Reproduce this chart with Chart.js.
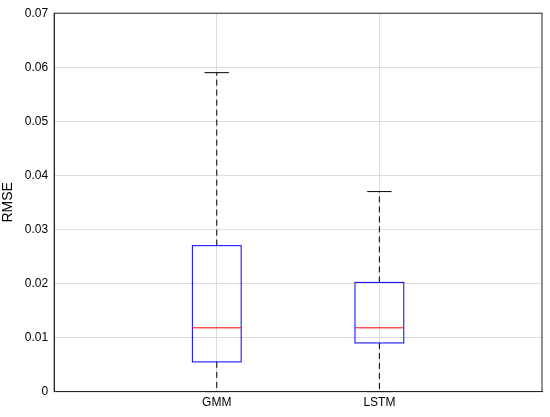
<!DOCTYPE html>
<html>
<head>
<script src="https://cdn.jsdelivr.net/npm/chart.js@4"></script>
<style>
  body { margin: 0; background: #fff; }
  #wrap { width: 550px; height: 417px; }
</style>
</head>
<body>
<div id="wrap"><canvas id="boxChart"></canvas></div>
<script>
// Box statistics
const categories = ["GMM", "LSTM"];
const positions = [1, 2];
const whiskerLow = [0, 0];
const quartile1 = [0.0055, 0.009];
const medians = [0.0118, 0.0118];
const quartile3 = [0.027, 0.0202];
const whiskerHigh = [0.059, 0.037];
const yTicks = [0, 0.01, 0.02, 0.03, 0.04, 0.05, 0.06, 0.07];

const boxPlugin = {
  id: "boxes",
  afterDatasetsDraw(chart) {
    const ctx = chart.ctx;
    const x = chart.scales.x;
    const y = chart.scales.y;
    const area = chart.chartArea;

    ctx.save();
    positions.forEach((p, i) => {
      const cx = x.getPixelForValue(p);
      const half = x.getPixelForValue(p + 0.15) - cx;
      const capHalf = half / 2;

      // whiskers
      ctx.strokeStyle = "#000";
      ctx.lineWidth = 1;
      ctx.setLineDash([6, 4]);
      ctx.beginPath();
      ctx.moveTo(cx, y.getPixelForValue(quartile3[i]));
      ctx.lineTo(cx, y.getPixelForValue(whiskerHigh[i]));
      ctx.moveTo(cx, y.getPixelForValue(quartile1[i]));
      ctx.lineTo(cx, y.getPixelForValue(whiskerLow[i]));
      ctx.stroke();
      ctx.setLineDash([]);

      // caps
      ctx.beginPath();
      [whiskerHigh[i], whiskerLow[i]].forEach((v) => {
        const py = y.getPixelForValue(v);
        ctx.moveTo(cx - capHalf, py);
        ctx.lineTo(cx + capHalf, py);
      });
      ctx.stroke();

      // box
      ctx.strokeStyle = "#0000ff";
      const top = y.getPixelForValue(quartile3[i]);
      const bot = y.getPixelForValue(quartile1[i]);
      ctx.strokeRect(cx - half, top, half * 2, bot - top);

      // median
      ctx.strokeStyle = "#ff0000";
      ctx.beginPath();
      const my = y.getPixelForValue(medians[i]);
      ctx.moveTo(cx - half, my);
      ctx.lineTo(cx + half, my);
      ctx.stroke();
    });

    // frame
    ctx.strokeStyle = "#262626";
    ctx.lineWidth = 1;
    ctx.strokeRect(area.left, area.top, area.right - area.left, area.bottom - area.top);
    ctx.restore();
  }
};

new Chart(document.getElementById("boxChart"), {
  type: "scatter",
  data: {
    datasets: [{
      data: positions.map((p, i) => ({ x: p, y: whiskerHigh[i] })),
      pointRadius: 0,
      showLine: false
    }]
  },
  options: {
    responsive: true,
    maintainAspectRatio: false,
    animation: false,
    layout: { padding: { top: -4, right: 8, bottom: 3, left: 0 } },
    plugins: { legend: { display: false }, tooltip: { enabled: false } },
    scales: {
      x: {
        type: "linear",
        min: 0,
        max: 3,
        afterBuildTicks: (axis) => { axis.ticks = positions.map((v) => ({ value: v })); },
        ticks: {
          callback: (v) => categories[positions.indexOf(v)] || "",
          color: "#000",
          font: { family: "Liberation Sans", size: 12 },
          padding: 4
        },
        grid: { color: "#dcdcdc", tickLength: 0 },
        border: { color: "#262626" }
      },
      y: {
        min: 0,
        max: 0.07,
        afterBuildTicks: (axis) => { axis.ticks = yTicks.map((v) => ({ value: v })); },
        ticks: {
          callback: (v) => String(+v.toFixed(2)),
          color: "#000",
          font: { family: "Liberation Sans", size: 12 },
          padding: 6
        },
        grid: { color: "#dcdcdc", tickLength: 0 },
        border: { color: "#262626" },
        title: {
          display: true,
          text: "RMSE",
          color: "#000",
          font: { family: "Liberation Sans", size: 14 },
          padding: { top: 0, bottom: 2 }
        }
      }
    }
  },
  plugins: [boxPlugin]
});
</script>
</body>
</html>
